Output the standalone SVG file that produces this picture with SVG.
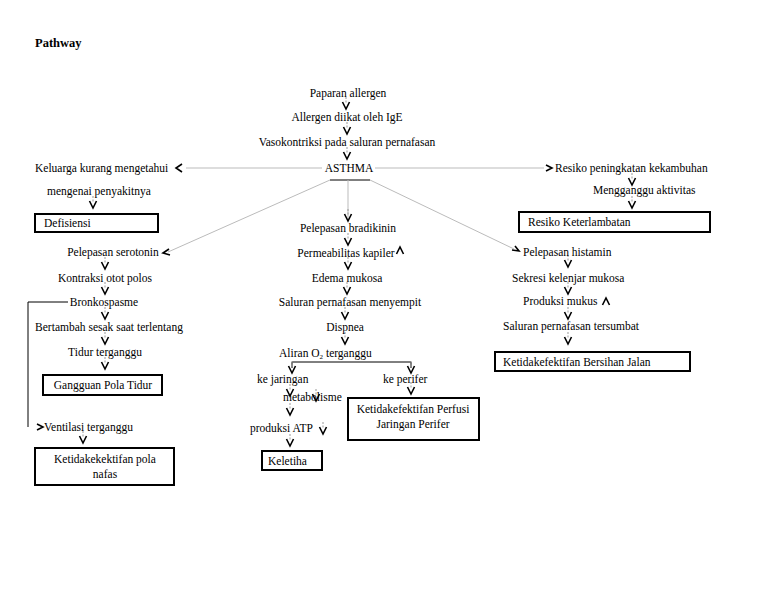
<svg xmlns="http://www.w3.org/2000/svg" xmlns:xlink="http://www.w3.org/1999/xlink" width="768" height="594" viewBox="0 0 768 594">
<style>
text{font-family:"Liberation Serif","Times New Roman",serif;font-size:11.5px;fill:#000}
.c{text-anchor:middle}
.title{font-weight:bold;font-size:12.5px}
.box{fill:#fff;stroke:#000;stroke-width:2}
.ln{stroke:#bbb;stroke-width:1;fill:none}
.dk{stroke:#000;stroke-width:1;fill:none}
.ch{stroke:#000;stroke-width:1.6;fill:none}
.st{stroke:#999;stroke-width:1;stroke-dasharray:2,1.5;fill:none}
</style>
<defs>
<g id="v"><path class="st" d="M0,-9 V-2"/><path class="ch" d="M-3.5,-4 L0,3 L3.5,-4"/></g>
<g id="va"><path class="ch" d="M-3.5,3 L0,-4 L3.5,3"/></g>
</defs>
<rect width="768" height="594" fill="#fff"/>
<text class="title" x="35" y="47">Pathway</text>

<g id="connectors">
<path class="ln" d="M186,168 H322"/>
<path class="ln" d="M375,168 H544"/>
<path class="dk" d="M330,180 H370"/>
<path class="ln" d="M330,180 L168,252"/>
<path class="ln" d="M370,180 L514,249"/>
<path class="ln" d="M348,180 V220"/>
<path class="ch" d="M182,164 L176,168 L182,172"/>
<path class="ch" d="M546,165 L552,168 L546,171"/>
<path class="ch" d="M169,249 L163,253 L170,255"/>
<path class="ch" d="M512,250 L519,251 L515,246"/>
<path class="dk" d="M68,302 H28 V427"/>
<path class="ch" d="M37,424 L43,427 L37,430"/>
<path class="dk" d="M292,362 H411"/>
<path class="dk" d="M292,362 V368"/>
<path class="dk" d="M411,362 V368"/>
<use href="#v" x="346" y="106"/>
<use href="#v" x="347" y="131"/>
<use href="#v" x="347" y="156"/>
<use href="#v" x="93" y="205"/>
<use href="#v" x="105" y="266"/>
<use href="#v" x="105" y="291"/>
<use href="#v" x="105" y="316"/>
<use href="#v" x="105" y="341"/>
<use href="#v" x="105" y="366"/>
<use href="#v" x="83" y="440"/>
<use href="#v" x="348" y="218"/>
<use href="#v" x="348" y="242"/>
<use href="#v" x="348" y="266"/>
<use href="#v" x="347" y="291"/>
<use href="#v" x="345" y="316"/>
<use href="#v" x="345" y="341"/>
<use href="#v" x="292" y="370"/>
<use href="#v" x="411" y="370"/>
<use href="#v" x="411" y="391"/>
<use href="#v" x="290" y="393"/>
<use href="#v" x="316" y="398"/>
<use href="#v" x="290" y="412"/>
<use href="#v" x="323" y="431"/>
<use href="#v" x="290" y="443"/>
<use href="#va" x="400" y="251"/>
<use href="#v" x="632" y="182"/>
<use href="#v" x="632" y="205"/>
<use href="#v" x="568" y="264"/>
<use href="#v" x="568" y="291"/>
<use href="#va" x="606" y="302"/>
<use href="#v" x="568" y="316"/>
<use href="#v" x="568" y="341"/>
</g>

<g id="n-paparan"><text class="c" x="348" y="97">Paparan allergen</text></g>
<g id="n-allergen"><text class="c" x="347" y="121">Allergen diikat oleh IgE</text></g>
<g id="n-vaso"><text class="c" x="347" y="146">Vasokontriksi pada saluran pernafasan</text></g>
<g id="n-asthma"><text class="c" x="349" y="172">ASTHMA</text></g>

<g id="n-keluarga"><text x="35" y="172">Keluarga kurang mengetahui</text></g>
<g id="n-mengenai"><text x="47" y="195">mengenai penyakitnya</text></g>
<g id="n-defisiensi"><rect class="box" x="35" y="214" width="123" height="18"/><text x="44" y="227">Defisiensi</text></g>
<g id="n-serotonin"><text class="c" x="113" y="256">Pelepasan serotonin</text></g>
<g id="n-kontraksi"><text class="c" x="105" y="282">Kontraksi otot polos</text></g>
<g id="n-bronko"><text class="c" x="104" y="306">Bronkospasme</text></g>
<g id="n-bertambah"><text class="c" x="109" y="331">Bertambah sesak saat terlentang</text></g>
<g id="n-tidur"><text class="c" x="105" y="356">Tidur terganggu</text></g>
<g id="n-gangguan"><rect class="box" x="43" y="375" width="119" height="20"/><text class="c" x="103" y="389">Gangguan Pola Tidur</text></g>
<g id="n-ventilasi"><text x="44" y="431">Ventilasi terganggu</text></g>
<g id="n-polanafas"><rect class="box" x="35" y="448" width="139" height="37"/><text class="c" x="105" y="463">Ketidakekektifan pola</text><text class="c" x="105" y="478">nafas</text></g>

<g id="n-bradikinin"><text class="c" x="348" y="232">Pelepasan bradikinin</text></g>
<g id="n-permeabilitas"><text class="c" x="346" y="257">Permeabilitas kapiler</text></g>
<g id="n-edema"><text class="c" x="347" y="282">Edema mukosa</text></g>
<g id="n-saluran"><text class="c" x="350" y="306">Saluran pernafasan menyempit</text></g>
<g id="n-dispnea"><text class="c" x="345" y="331">Dispnea</text></g>
<g id="n-aliran"><text x="279" y="357">Aliran O<tspan font-size="7" dy="2">2</tspan><tspan dy="-2"> terganggu</tspan></text></g>
<g id="n-kejaringan"><text x="257" y="383">ke jaringan</text></g>
<g id="n-keperifer"><text x="383" y="383">ke perifer</text></g>
<g id="n-perfusi"><rect class="box" x="348" y="398" width="131" height="42"/><text class="c" x="413" y="413">Ketidakefektifan Perfusi</text><text class="c" x="413" y="428">Jaringan Perifer</text></g>
<g id="n-metabolisme"><text x="283" y="401">metabolisme</text></g>
<g id="n-atp"><text x="250" y="432">produksi ATP</text></g>
<g id="n-keletiha"><rect class="box" x="262" y="451" width="60" height="19"/><text x="268" y="465">Keletiha</text></g>

<g id="n-resiko"><text x="555" y="172">Resiko peningkatan kekambuhan</text></g>
<g id="n-mengganggu"><text x="593" y="194">Mengganggu aktivitas</text></g>
<g id="n-keterlambatan"><rect class="box" x="519" y="212" width="191" height="20"/><text x="528" y="226">Resiko Keterlambatan</text></g>
<g id="n-histamin"><text x="523" y="256">Pelepasan histamin</text></g>
<g id="n-sekresi"><text x="512" y="282">Sekresi kelenjar mukosa</text></g>
<g id="n-produksi"><text x="523" y="305">Produksi mukus</text></g>
<g id="n-tersumbat"><text x="503" y="330">Saluran pernafasan tersumbat</text></g>
<g id="n-bersihan"><rect class="box" x="495" y="352" width="195" height="19"/><text x="503" y="366">Ketidakefektifan Bersihan Jalan</text></g>
</svg>
